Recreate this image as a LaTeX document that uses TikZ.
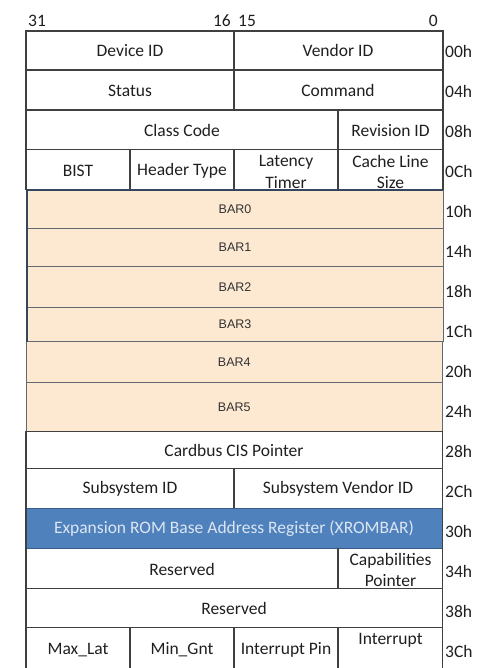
\documentclass[tikz,border=0pt]{standalone}
\usepackage{fontspec}
\setmainfont{Carlito}
\newfontfamily\barfont{Liberation Sans}

\definecolor{gridline}{HTML}{404040}
\definecolor{barfill}{HTML}{FDE9D2}
\definecolor{barline}{HTML}{626870}
\definecolor{bartop}{HTML}{34465E}
\definecolor{romfill}{HTML}{4F81BD}
\definecolor{romline}{HTML}{385D8A}
\definecolor{romtext}{HTML}{DCE6F2}

\begin{document}
\begin{tikzpicture}[x=1pt,y=-1pt,
    grid/.style={draw=gridline, line width=1.2pt},
    barcell/.style={fill=barfill, draw=barline, line width=1pt},
    lbl/.style={font=\fontsize{17.5}{21.5}\selectfont, text=black!88, align=center, inner sep=0pt},
    barlbl/.style={font=\barfont\fontsize{12.5}{14}\selectfont, text=black!80, inner sep=0pt},
    offs/.style={lbl, anchor=west}]

    \useasboundingbox (0,0) rectangle (489,668);

    % номера битов
    \node[lbl, anchor=base west] (bit31) at (28,26.5) {31};
    \node[lbl, anchor=base east] (bit16) at (231,26.5) {16};
    \node[lbl, anchor=base west] (bit15) at (238,26.5) {15};
    \node[lbl, anchor=base east] (bit0)  at (438,26.5) {0};

    % BAR0 -- BAR5
    \foreach \name/\top/\bot/\xl/\xr in {BAR0/190/228.3/27/443, BAR1/228.3/266.3/27/443,
        BAR2/266.3/307.3/27/443, BAR3/307.3/341.7/27/443,
        BAR4/341.7/382.3/26/442.5, BAR5/382.3/431.7/26/442.5} {
        \filldraw[barcell] (\xl,\top) rectangle (\xr,\bot);
        \node[barlbl] (\name) at ({(\xl+\xr)/2},{(\top+\bot)/2}) {\name};
    }
    \draw[bartop, line width=1.6pt] (27,341.7) -- (27,190) -- (443,190);

    % XROMBAR
    \filldraw[fill=romfill, draw=romline, line width=1.2pt] (26,508.3) rectangle (442.5,548.3);

    % сетка: верхняя часть
    \draw[grid] (26,190) -- (26,31) -- (443,31) -- (443,190);
    \draw[grid] (26,70) -- (443,70);
    \draw[grid] (26,110) -- (443,110);
    \draw[grid] (26,149.5) -- (443,149.5);
    \draw[grid] (234,31) -- (234,110);
    \draw[grid] (338,110) -- (338,190);
    \draw[grid] (130,149.5) -- (130,190);
    \draw[grid] (234,149.5) -- (234,190);

    % сетка: нижняя часть
    \draw[grid] (26,690) -- (26,431.7) -- (442.5,431.7) -- (442.5,690);
    \draw[grid] (26,468.3) -- (442.5,468.3);
    \draw[grid] (26,588.3) -- (442.5,588.3);
    \draw[grid] (26,627.3) -- (442.5,627.3);
    \draw[grid] (234,468.3) -- (234,508.3);
    \draw[grid] (338,548.3) -- (338,588.3);
    \draw[grid] (130,627.3) -- (130,690);
    \draw[grid] (234,627.3) -- (234,690);
    \draw[grid] (338,627.3) -- (338,690);

    % подписи полей
    \node[lbl] (devid)  at (130,50.5) {Device ID};
    \node[lbl] (vendid) at (338,50.5) {Vendor ID};
    \node[lbl] (status) at (130,90.5) {Status};
    \node[lbl] (cmd)    at (338,90.5) {Command};
    \node[lbl] (class)  at (182,130.5) {Class Code};
    \node[lbl] (revid)  at (390.5,130.5) {Revision ID};
    \node[lbl] (bist)   at (78,171) {BIST};
    \node[lbl] (htype)  at (182,171) {Header Type};
    \node[lbl] (lat)    at (286,172) {Latency\\Timer};
    \node[lbl] (cline)  at (390.5,172) {Cache Line\\Size};

    \node[lbl] (cis)    at (234,450) {Cardbus CIS Pointer};
    \node[lbl] (subid)  at (130,489) {Subsystem ID};
    \node[lbl] (subvid) at (338,489) {Subsystem Vendor ID};
    \node[lbl, text=romtext] (xrom) at (234,529) {Expansion ROM Base Address Register (XROMBAR)};
    \node[lbl] (res1)   at (182,569) {Reserved};
    \node[lbl] (capptr) at (390.5,570) {Capabilities\\Pointer};
    \node[lbl] (res2)   at (234,608.5) {Reserved};
    \node[lbl] (maxlat) at (78,650) {Max\_Lat};
    \node[lbl] (mingnt) at (182,650) {Min\_Gnt};
    \node[lbl] (intpin) at (286,650) {Interrupt Pin};
    \node[lbl] (intlin) at (390.5,640) {Interrupt};

    % смещения
    \foreach \off [count=\i from 0] in {00h,04h,08h,0Ch,10h,14h,18h,1Ch,20h,24h,28h,2Ch,30h,34h,38h,3Ch}
        \node[offs] (off\off) at (445,{51.5+40*\i}) {\off};

\end{tikzpicture}
\end{document}
